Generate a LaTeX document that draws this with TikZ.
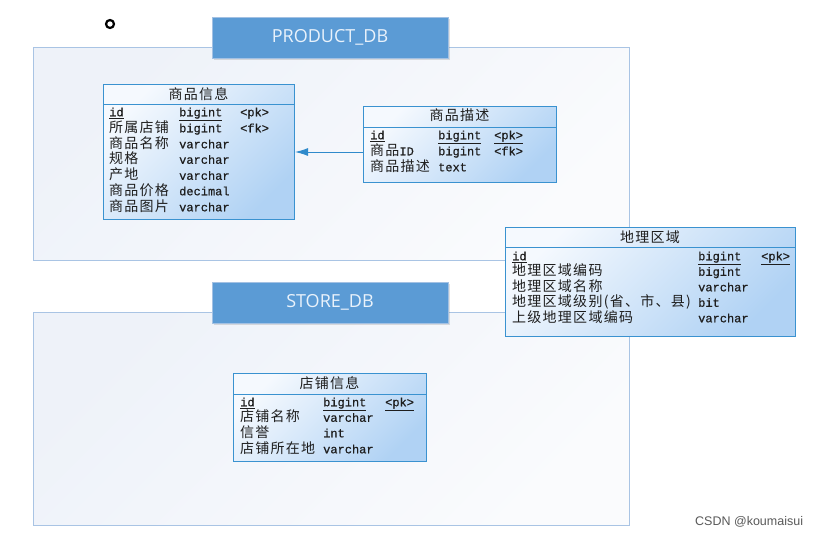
\documentclass[tikz,border=0pt]{standalone}
\usepackage{fontspec}
\setmainfont[FakeBold=0.6]{Liberation Mono}
\newfontfamily\cjkfam[LetterSpace=9]{Noto Sans CJK SC}
\newfontfamily\lblfam{Open Sans}
\newfontfamily\wmfam{Liberation Sans}
\newcommand\zhtext[1]{{\cjkfam\fontsize{14}{14}\selectfont #1}}
\usetikzlibrary{arrows.meta,shadows}
\definecolor{contb}{HTML}{A9C4E4}
\definecolor{contA}{HTML}{EEF2F9}
\definecolor{contB}{HTML}{FAFBFD}
\definecolor{lblfill}{HTML}{5B9BD5}
\definecolor{lblbord}{HTML}{A3C1E3}
\definecolor{lbltext}{HTML}{E9F2FB}
\definecolor{tbord}{HTML}{3A92D0}
\definecolor{tblA}{HTML}{F5F9FE}
\definecolor{tblB}{HTML}{B0D2F4}
\definecolor{txt}{HTML}{1E1E1E}
\definecolor{conn}{HTML}{2F8ACB}
\tikzset{
  cont/.style={draw=contb, line width=1.2pt, top color=contA, bottom color=contB, shading angle=45, anchor=north west, inner sep=0},
  dblabel/.style={fill=lblfill, draw=lblbord, line width=0.8pt, text=lbltext, font=\lblfam\fontsize{18}{20}\selectfont, minimum width=236pt, minimum height=41pt, inner sep=0, drop shadow={shadow xshift=1.5pt, shadow yshift=-2pt, opacity=0.25, fill=gray}},
  tbl/.style={draw=tbord, line width=1pt, top color=tblA, bottom color=tblB, shading angle=45, anchor=north west, inner sep=0},
  hdline/.style={draw=tbord, line width=1pt},
  hd/.style={inner sep=0, text=txt, font=\cjkfam\fontsize{14}{14}\selectfont},
  cell/.style={anchor=west, inner sep=0, text=txt, text height=9.5pt, text depth=3pt, font=\fontsize{12}{14}\selectfont},
  connline/.style={draw=conn, line width=1pt, -{Latex[length=13pt,width=8pt]}},
}
\begin{document}
\begin{tikzpicture}[x=1pt,y=-1pt]
\useasboundingbox[fill=white] (0,0) rectangle (832,539);

% cursor mark
\node[circle, draw=black, line width=2.2pt, minimum size=8pt, inner sep=0] (cur) at (110,24) {};

% containers
\node[cont, minimum width=596pt, minimum height=213pt] (pdb) at (33,47) {};
\node[dblabel] (pdblbl) at (330,37.5) {PRODUCT\_DB};
\node[cont, minimum width=596pt, minimum height=213pt] (sdb) at (33,312) {};
\node[dblabel] (sdblbl) at (330,302.5) {STORE\_DB};

% table 1: 商品信息
\node[tbl, minimum width=191pt, minimum height=135pt] (t1) at (103,84) {};
\draw[hdline] ([yshift=-20.5pt]t1.north west) -- ([yshift=-20.5pt]t1.north east);
\node[hd] (t1h) at (198.5,94) {商品信息};
\node[cell] (t1n1) at (109,113) {\underline{id}};
\node[cell] (t1y1) at (179,113) {\underline{bigint}};
\node[cell] (t1k1) at (240,113) {<pk>};
\foreach \i/\n/\t/\k/\y in {2/所属店铺/bigint/<fk>/129, 3/商品名称/varchar//145, 4/规格/varchar//160.5, 5/产地/varchar//176.5, 6/商品价格/decimal//192, 7/商品图片/varchar//208}{
  \node[cell] (t1n\i) at (109,\y) {\zhtext{\n}};
  \node[cell] (t1y\i) at (179,\y) {\t};
  \node[cell] (t1k\i) at (240,\y) {\k};
}

% table 2: 商品描述
\node[tbl, minimum width=193pt, minimum height=76pt] (t2) at (363,106) {};
\draw[hdline] ([yshift=-21pt]t2.north west) -- ([yshift=-21pt]t2.north east);
\node[hd] (t2h) at (459.5,115.5) {商品描述};
\node[cell] (t2n1) at (370,136) {\underline{id}};
\node[cell] (t2y1) at (438,136) {\underline{bigint}};
\node[cell] (t2k1) at (494,136) {\underline{<pk>}};
\node[cell] (t2n2) at (370,152) {\zhtext{商品}ID};
\node[cell] (t2y2) at (438,152) {bigint};
\node[cell] (t2k2) at (494,152) {<fk>};
\node[cell] (t2n3) at (370,168) {\zhtext{商品描述}};
\node[cell] (t2y3) at (438,168) {text};

% connector
\coordinate (ay) at (0,152);
\draw[connline] (t2.west |- ay) -- (t1.east |- ay);

% table 3: 地理区域
\node[tbl, minimum width=290pt, minimum height=109pt] (t3) at (505,227) {};
\draw[hdline] ([yshift=-20.5pt]t3.north west) -- ([yshift=-20.5pt]t3.north east);
\node[hd] (t3h) at (650,237.5) {地理区域};
\node[cell] (t3n1) at (512,257) {\underline{id}};
\node[cell] (t3y1) at (698,257) {\underline{bigint}};
\node[cell] (t3k1) at (761,257) {\underline{<pk>}};
\foreach \i/\n/\t/\y in {2/地理区域编码/bigint/272.5, 3/地理区域名称/varchar/288, 4/地理区域级别(省、市、县)/bit/303.5, 5/上级地理区域编码/varchar/319}{
  \node[cell] (t3n\i) at (512,\y) {\zhtext{\n}};
  \node[cell] (t3y\i) at (698,\y) {\t};
}

% table 4: 店铺信息
\node[tbl, minimum width=193pt, minimum height=88pt] (t4) at (233,373) {};
\draw[hdline] ([yshift=-21pt]t4.north west) -- ([yshift=-21pt]t4.north east);
\node[hd] (t4h) at (329.5,383.5) {店铺信息};
\node[cell] (t4n1) at (240,403) {\underline{id}};
\node[cell] (t4y1) at (323,403) {\underline{bigint}};
\node[cell] (t4k1) at (385,403) {\underline{<pk>}};
\foreach \i/\n/\t/\y in {2/店铺名称/varchar/418.5, 3/信誉/int/434, 4/店铺所在地/varchar/450}{
  \node[cell] (t4n\i) at (240,\y) {\zhtext{\n}};
  \node[cell] (t4y\i) at (323,\y) {\t};
}

% watermark
\node[anchor=west, inner sep=0, text=black!65, font=\wmfam\fontsize{12.5}{14}\selectfont] (wm) at (695,522) {CSDN @koumaisui};
\end{tikzpicture}
\end{document}
